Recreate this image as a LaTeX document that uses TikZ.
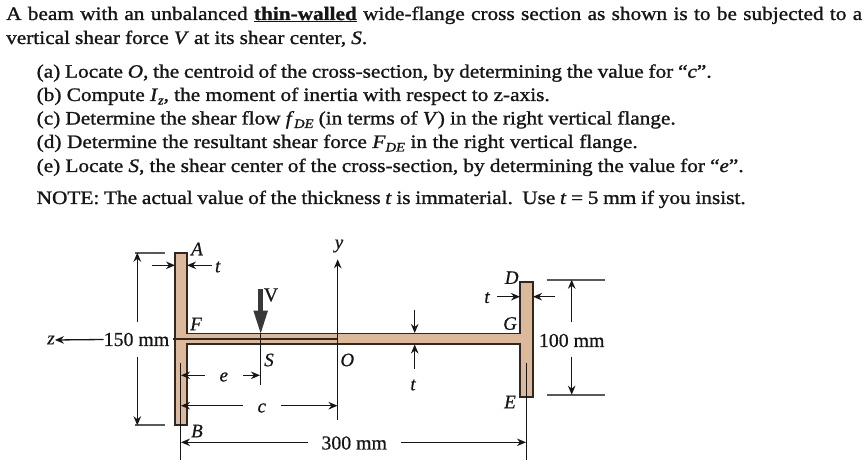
\documentclass[tikz,border=0pt]{standalone}
\usepackage{fontspec}
\setmainfont{Liberation Serif}[FakeStretch=1.12,FakeBold=1.2]
\newfontfamily\lblfont{Liberation Serif}[FakeBold=0.6]
\usetikzlibrary{arrows.meta}
\definecolor{beamfill}{HTML}{DDB99B}
\definecolor{ink}{HTML}{161616}
\definecolor{edge}{HTML}{33261F}
\newcommand{\ii}[1]{\textit{#1}}
\newcommand{\sbs}[1]{\raisebox{-3.5pt}{\fontsize{13}{13}\selectfont\textit{#1}}}
\newcommand{\fit}[2]{\makebox[#1pt][s]{#2}}
\tikzset{
  txt/.style={anchor=base west,inner sep=0pt,text=ink,font=\fontsize{19}{20}\selectfont},
  lbl/.style={inner sep=0pt,text=ink,font=\lblfont\fontsize{19.8}{20}\selectfont},
  lit/.style={inner sep=0pt,text=ink,font=\lblfont\itshape\fontsize{19}{20}\selectfont},
  dim/.style={ink,line width=1.3pt,-{Stealth[length=9pt,width=7.5pt]}},
  guide/.style={ink,line width=1.4pt},
  ext/.style={draw=black!65,line width=2pt},
  beam/.style={fill=beamfill,draw=edge,line width=1.7pt,line join=miter}
}
\begin{document}
\begin{tikzpicture}[x=1pt,y=-1pt]
\useasboundingbox[fill=white] (0,0) rectangle (867,465);
% statement
\node[txt] (l1) at (6,20) {\fit{856}{A beam with an unbalanced \underline{\textbf{thin-walled}} wide-flange cross section as shown is to be subjected to a}};
\node[txt] (l2) at (6,44) {\fit{361}{vertical shear force \ii{V} at its shear center, \ii{S}.}};
\node[txt] (la) at (36.5,77.7) {\fit{675}{(a) Locate \ii{O}, the centroid of the cross-section, by determining the value for “\ii{c}”.}};
\node[txt] (lb) at (36.5,101) {\fit{513}{(b) Compute \ii{I}\sbs{z}, the moment of inertia with respect to z-axis.}};
\node[txt] (lc) at (36.5,124.5) {\fit{639}{(c) Determine the shear flow \ii{f}\sbs{DE} (in terms of \ii{V}) in the right vertical flange.}};
\node[txt] (ld) at (36.5,148) {\fit{601}{(d) Determine the resultant shear force \ii{F}\sbs{DE} in the right vertical flange.}};
\node[txt] (le) at (36.5,172) {\fit{707}{(e) Locate \ii{S}, the shear center of the cross-section, by determining the value for “\ii{e}”.}};
\node[txt] (ln) at (36.5,204) {\fit{709}{NOTE: The actual value of the thickness \ii{t} is immaterial.\ \ Use \ii{t} = 5 mm if you insist.}};
% beam
\draw[beam] (175,252.7) -- (186.7,252.7) -- (186.7,333.5) -- (520,333.5) -- (520,281.7) -- (532.7,281.7) -- (532.7,396.7) -- (520,396.7) -- (520,344.3) -- (186.7,344.3) -- (186.7,425.3) -- (175,425.3) -- cycle;
% reference points
\coordinate (Ltop) at (180.7,363);
\coordinate (Lbot) at (180.7,460);
\coordinate (Rtop) at (526.3,363);
\coordinate (Rbot) at (526.3,460);
\coordinate (Oaxis) at (337.7,420);
\coordinate (Oy) at (337.7,259.3);
\coordinate (Stop) at (260.7,333);
\coordinate (Sbot) at (260.7,385);
\coordinate (webL) at (173,338.8);
\coordinate (webO) at (338,338.8);
\draw[guide] (Ltop) -- (Lbot);
\draw[guide] (Rtop) -- (Rbot);
\draw[guide] (Stop) -- (Sbot);
\draw[edge,line width=1.5pt] (webL) -- (webO);
\draw[dim] (Oaxis) -- (Oy);
% V load
\coordinate (Vtip) at (260.7,333.3);
\fill[black!78] (258.2,289.3) rectangle (263.2,311.5);
\fill[black!78] (253.3,310.5) -- (268,310.5) -- (Vtip) -- cycle;
% labels
\node[lit] (A) at (197,249) {A};
\node[lit] (F) at (196,324) {F};
\node[lit] (B) at (197,431) {B};
\node[lit] (D) at (511.7,277.7) {D};
\node[lit] (G) at (510,323.5) {G};
\node[lit] (E) at (510,402) {E};
\node[lit] (S) at (269,360) {S};
\node[lit] (O) at (347.3,360) {O};
\node[lit] (Y) at (339,246) {y};
\node[lit] (Z) at (51,340) {z};
\node[lbl] (V) at (271,295) {V};
% top left t
\node[lit] (t1) at (217.7,267) {t};
\coordinate (t1a) at (151.7,265.3);
\coordinate (t1b) at (175,265.3);
\coordinate (t1c) at (211.7,265.3);
\coordinate (t1d) at (187,265.3);
\draw[dim] (t1a) -- (t1b);
\draw[dim] (t1c) -- (t1d);
% right t
\node[lit] (t2) at (487,297.7) {t};
\coordinate (t2a) at (497.3,296.7);
\coordinate (t2b) at (520,296.7);
\coordinate (t2c) at (555,296.7);
\coordinate (t2d) at (533,296.7);
\draw[dim] (t2a) -- (t2b);
\draw[dim] (t2c) -- (t2d);
% web t
\node[lit] (t3) at (413,385) {t};
\coordinate (t3a) at (414.7,310);
\coordinate (t3b) at (414.7,333);
\coordinate (t3c) at (414.7,369);
\coordinate (t3d) at (414.7,344.5);
\draw[dim] (t3a) -- (t3b);
\draw[dim] (t3c) -- (t3d);
% 150 mm
\coordinate (x150t1) at (135,252.7);
\coordinate (x150t2) at (165,252.7);
\coordinate (x150b1) at (135,425.3);
\coordinate (x150b2) at (165,425.3);
\draw[ext] (x150t1) -- (x150t2);
\draw[ext] (x150b1) -- (x150b2);
\node[lbl] (m150) at (136.5,339.5) {150 mm};
\coordinate (d150a) at (137.3,321.7);
\coordinate (d150b) at (137.3,252.7);
\coordinate (d150c) at (137.3,356.7);
\coordinate (d150d) at (137.3,425.3);
\draw[dim] (d150a) -- (d150b);
\draw[dim] (d150c) -- (d150d);
\draw[dim] (m150.west) -- (Z.east);
% 100 mm
\coordinate (x100t1) at (546.7,279.7);
\coordinate (x100t2) at (605,279.7);
\coordinate (x100b1) at (546.7,394.7);
\coordinate (x100b2) at (605,394.7);
\draw[ext] (x100t1) -- (x100t2);
\draw[ext] (x100b1) -- (x100b2);
\node[lbl] (m100) at (571.7,340.5) {100 mm};
\coordinate (d100a) at (571.7,321.7);
\coordinate (d100b) at (571.7,279.7);
\coordinate (d100c) at (571.7,356.7);
\coordinate (d100d) at (571.7,394.7);
\draw[dim] (d100a) -- (d100b);
\draw[dim] (d100c) -- (d100d);
% e, c, 300 mm
\node[lit,minimum width=37.5pt] (e) at (223.8,377) {e};
\coordinate (eL) at (181,375.3);
\coordinate (eR) at (260,375.3);
\draw[dim] (e.west |- eL) -- (eL);
\draw[dim] (e.east |- eR) -- (eR);
\node[lit,minimum width=37.7pt] (c) at (261.8,408) {c};
\coordinate (cL) at (181,405.7);
\coordinate (cR) at (337.5,405.7);
\draw[dim] (c.west |- cL) -- (cL);
\draw[dim] (c.east |- cR) -- (cR);
\node[lbl,minimum width=93pt] (m300) at (354.2,443) {300 mm};
\coordinate (mL) at (181,442.3);
\coordinate (mR) at (526,442.3);
\draw[dim] (m300.west |- mL) -- (mL);
\draw[dim] (m300.east |- mR) -- (mR);
\end{tikzpicture}
\end{document}
